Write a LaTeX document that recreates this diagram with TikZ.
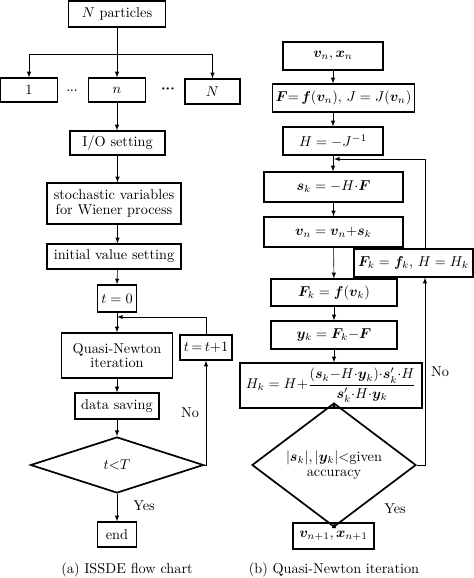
\documentclass[tikz,border=0pt]{standalone}
\usepackage{amsmath,amssymb,bm}
\usepackage{tikz}
\usetikzlibrary{shapes,arrows,calc,positioning}

\begin{document}
\begin{tikzpicture}[x=0.7pt,y=-0.7pt,>=latex,
	blk/.style={draw,thick,inner sep=2pt,align=center},
	dec/.style={draw,very thick,diamond,inner sep=0pt,align=center},
	lbl/.style={inner sep=1pt}]
	\useasboundingbox (0,0) rectangle (474,578);
	
	% (a) ISSDE flow chart
	\node[blk,minimum width=67.9pt,minimum height=18.2pt] (npart) at (117,14) {$N$ particles};
	\node[blk,minimum width=39.9pt,minimum height=16.8pt] (b1) at (29,90) {1};
	\node[blk,minimum width=39.9pt,minimum height=16.8pt] (bn) at (117,90) {$n$};
	\node[blk,minimum width=38.5pt,minimum height=17.5pt] (bN) at (212.5,91.5) {$N$};
	\node[lbl] (d1) at (72,91) {\scriptsize\bfseries ...};
	\node[lbl] (d2) at (168,89) {$\bm{\mathord{\cdot}\mathord{\cdot}\mathord{\cdot}}$};
	\node[blk,minimum width=66.5pt,minimum height=16.8pt] (io) at (117.5,143) {I/O setting};
	\node[blk,minimum width=93.8pt,minimum height=28.7pt] (stoch) at (114,203.5) {stochastic variables\\[-2pt]for Wiener process};
	\node[blk,minimum width=93.8pt,minimum height=17.5pt] (init) at (114,256.5) {initial value setting};
	\node[blk,minimum width=27.3pt,minimum height=18.9pt] (t0) at (117,298.5) {$t=0$};
	\node[blk,minimum width=77.7pt,minimum height=31.5pt] (qn) at (117,355.5) {Quasi-Newton\\[-2pt]iteration};
	\node[blk,minimum width=58.8pt,minimum height=18.2pt] (save) at (117,406) {data saving};
	\node[dec,minimum width=121.1pt,minimum height=39.2pt] (dec1) at (117,465) {$t{<}T$};
	\node[blk,minimum width=27.3pt,minimum height=17.5pt] (endb) at (117,534.5) {end};
	\node[blk,minimum width=36.4pt,minimum height=17.5pt] (tinc) at (206,347.5) {$t\,{=}\,t{+}1$};
	\node[lbl] (no1) at (190,413) {No};
	\node[lbl] (yes1) at (144,506) {Yes};
	\node[lbl] (capa) at (127,570) {(a) ISSDE flow chart};
	
	\coordinate (split) at (117,54);
	\coordinate (lp) at (117,317);
	\draw (npart) -- (split);
	\draw[->] (split) -| (b1.north);
	\draw[->] (split) -| (bN.north);
	\draw[->] (split) -- (bn.north);
	\draw[->] (bn) -- (bn |- io.north);
	\draw[->] (io) -- (io |- stoch.north);
	\draw[->] (io |- stoch.south) -- (io |- init.north);
	\draw[->] (io |- init.south) -- (t0.north);
	\draw[->] (t0) -- (qn);
	\draw[->] (qn) -- (save);
	\draw[->] (save) -- (dec1.north);
	\draw[->] (dec1.south) -- (endb);
	\draw[->] (dec1.east) -| (tinc.south);
	\draw[->] (tinc.north) |- (lp);
	
	% (b) Quasi-Newton iteration
	\node[blk,minimum width=70pt,minimum height=19.6pt] (vx) at (333,56) {$\bm{v}_n,\bm{x}_n$};
	\node[blk,minimum width=98.7pt,minimum height=19.6pt] (fj) at (343.5,98) {$\bm{F}{=}\,\bm{f}(\bm{v}_n),\,J=J(\bm{v}_n)$};
	\node[blk,minimum width=70pt,minimum height=19.6pt] (hj) at (333,141) {$H=-J^{-1}$};
	\node[blk,minimum width=97.3pt,minimum height=21pt] (sk) at (333.5,187) {$\bm{s}_k=-H{\cdot}\bm{F}$};
	\node[blk,minimum width=97.3pt,minimum height=21pt] (vn) at (333.5,232) {$\bm{v}_n=\bm{v}_n{+}\bm{s}_k$};
	\node[blk,minimum width=83.3pt,minimum height=19.6pt] (fk) at (413.5,263) {$\bm{F}_k=\bm{f}_k,\,H=H_k$};
	\node[blk,minimum width=88.2pt,minimum height=18.9pt] (fkf) at (334,292.5) {$\bm{F}_k=\bm{f}(\bm{v}_k)$};
	\node[blk,minimum width=88.2pt,minimum height=19.6pt] (yk) at (334,335) {$\bm{y}_k=\bm{F}_k{-}\bm{F}$};
	\node[blk,minimum width=127.4pt,minimum height=31.5pt] (hk) at (331,385.5)
		{$H_k=H{+}\dfrac{(\bm{s}_k{-}H{\cdot}\bm{y}_k){\cdot}\bm{s}'_k{\cdot}H}{\bm{s}'_k{\cdot}H{\cdot}\bm{y}_k}$};
	\node[dec,minimum width=114.8pt,minimum height=65.8pt] (dec2) at (334,465) {$|\bm{s}_k|,|\bm{y}_k|{<}$given\\[-2pt]accuracy};
	\node[blk,minimum width=56.7pt,minimum height=18.2pt] (vx1) at (333.5,536) {$\bm{v}_{n+1},\bm{x}_{n+1}$};
	\node[lbl] (no2) at (440,372) {No};
	\node[lbl] (yes2) at (395,509) {Yes};
	\node[lbl] (capb) at (334,570) {(b) Quasi-Newton iteration};
	
	\coordinate (rx) at (425,465);
	\coordinate (rp) at (334,159);
	\draw[->] (vx) -- (vx |- fj.north);
	\draw[->] (vx |- fj.south) -- (hj.north);
	\draw[->] (hj) -- (hj |- sk.north);
	\draw[->] (sk) -- (vn);
	\draw[->] (vn) -- (fkf);
	\draw[->] (fkf) -- (yk);
	\draw[->] (yk) -- (yk |- hk.north);
	\draw[->] (yk |- hk.south) -- (dec2.north);
	\draw[->] (dec2.south) -- (vx1);
	\draw[->] (dec2.east) -- (rx) -- (rx |- fk.south);
	\draw[->] (rx |- fk.north) |- (rp);
	
\end{tikzpicture}
\end{document}
